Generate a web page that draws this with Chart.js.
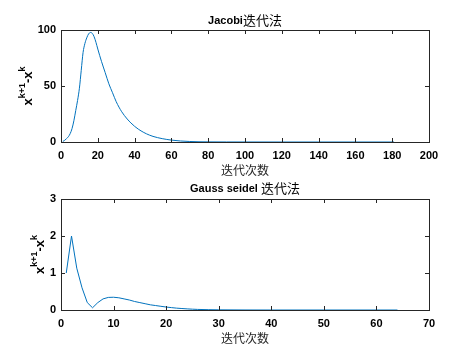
<!DOCTYPE html>
<html>
<head>
<meta charset="utf-8">
<script src="https://cdn.jsdelivr.net/npm/chart.js@4"></script>
<style>
  html, body { margin:0; padding:0; background:#fff; }
  #wrap { position:relative; width:474px; height:355px; overflow:hidden; background:#fff; }
  .box { position:absolute; left:0; width:474px; }
</style>
</head>
<body>
<div id="wrap">
  <div class="box" style="top:0;height:180px"><canvas id="c1"></canvas></div>
  <div class="box" style="top:176px;height:179px"><canvas id="c2"></canvas></div>
</div>
<script>
// ---- data ----
const jacobiIter = [1,2,3,4,5,6,7,8,9,10,11,12,13,14,15,16,17,18,19,20,22,24,26,28,30,33,36,38,40,42,45,48,50,55,60,65,70,75,80,90,100,120,140,160,181];
const jacobiDiff = [0.5,1.5,3,4.7,7.5,12,19,28,37,48,64,80,88,93,96.5,97.8,97,94,89,83,72,62,52,44,36,27,20.5,17,14,11.5,8.5,6.2,5,3,1.7,0.9,0.45,0.2,0.1,0.04,0.02,0,0,0,0];
const gsIter = [1,2,3,4,5,6,7,8,9,10,11,12,13,14,15,16,17,18,19,20,21,22,23,24,25,26,28,30,35,40,50,64];
const gsDiff = [1,2,1.13,0.6,0.2,0.06,0.2,0.3,0.34,0.345,0.33,0.3,0.27,0.23,0.2,0.17,0.14,0.12,0.1,0.08,0.065,0.05,0.04,0.03,0.022,0.016,0.009,0.005,0.001,0,0,0];
const jacobiXTicks = [0,20,40,60,80,100,120,140,160,180,200];
const jacobiYTicks = [0,50,100];
const gsXTicks = [0,10,20,30,40,50,60,70];
const gsYTicks = [0,1,2,3];
const titleTop = ['Jacobi', '迭代法'];
const titleBottom = ['Gauss seidel ', '迭代法'];
const xLabel = '迭代次数';

const LINE = '#0072BD';
const AXC = '#262626';
const LAT = '"Liberation Sans", Arial, sans-serif';
const CJK = '"Noto Sans CJK SC", sans-serif';

const deco = {
  id: 'deco',
  afterDraw(chart, args, o) {
    const ctx = chart.ctx, a = chart.chartArea;
    const xs = chart.scales.x, ys = chart.scales.y;
    ctx.save();
    ctx.strokeStyle = AXC; ctx.lineWidth = 1;
    ctx.strokeRect(Math.round(a.left)+0.5, Math.round(a.top)+0.5, Math.round(a.right-a.left), Math.round(a.bottom-a.top));
    ctx.beginPath();
    xs.ticks.forEach(t => {
      const px = Math.round(xs.getPixelForValue(t.value)) + 0.5;
      ctx.moveTo(px, a.bottom); ctx.lineTo(px, a.bottom - 4);
      ctx.moveTo(px, a.top); ctx.lineTo(px, a.top + 4);
    });
    ys.ticks.forEach(t => {
      const py = Math.round(ys.getPixelForValue(t.value)) + 0.5;
      ctx.moveTo(a.left, py); ctx.lineTo(a.left + 4, py);
      ctx.moveTo(a.right, py); ctx.lineTo(a.right - 4, py);
    });
    ctx.stroke();
    // title (mixed fonts)
    ctx.fillStyle = '#000';
    ctx.textBaseline = 'middle';
    const f1 = 'bold 11px ' + LAT, f2 = '13px ' + CJK;
    ctx.font = f1; const w1 = ctx.measureText(o.title[0]).width;
    ctx.font = f2; const w2 = ctx.measureText(o.title[1]).width;
    let tx = o.titleX - (w1 + w2) / 2;
    ctx.textAlign = 'left';
    ctx.font = f1; ctx.fillText(o.title[0], tx, o.titleY + 1);
    ctx.font = f2; ctx.fillText(o.title[1], tx + w1, o.titleY);
    // x label
    ctx.fillStyle = AXC;
    ctx.font = '12px ' + CJK; ctx.textAlign = 'center';
    ctx.fillText(xLabel, (a.left + a.right) / 2, o.xLabelY);
    // y label x^{k+1}-x^k rotated
    ctx.fillStyle = '#000';
    ctx.translate(o.yLabelX, (a.top + a.bottom) / 2);
    ctx.rotate(-Math.PI / 2);
    const big = 'bold 13px ' + LAT, small = 'bold 9px ' + LAT;
    const parts = [['x', big, 0], ['k+1', small, -7], ['-x', big, 0], ['k', small, -7]];
    let tot = 0;
    parts.forEach(p => { ctx.font = p[1]; p.push(ctx.measureText(p[0]).width); tot += p[3]; });
    let cx = -tot / 2;
    ctx.textAlign = 'left'; ctx.textBaseline = 'alphabetic';
    parts.forEach(p => { ctx.font = p[1]; ctx.fillText(p[0], cx, 5 + p[2]); cx += p[3]; });
    ctx.restore();
  }
};

function makeChart(id, iter, diff, xTicks, yTicks, cfg) {
  const pts = iter.map((v, i) => ({ x: v, y: diff[i] }));
  return new Chart(document.getElementById(id), {
    type: 'line',
    data: { datasets: [{ data: pts, borderColor: LINE, borderWidth: 1, pointRadius: 0,
      fill: false, cubicInterpolationMode: cfg.smooth ? 'monotone' : 'default', tension: 0 }] },
    options: {
      responsive: true, maintainAspectRatio: false, animation: false,
      layout: { padding: { top: cfg.padTop, right: 45, left: 0, bottom: 0 } },
      plugins: { legend: { display: false }, tooltip: { enabled: false },
        deco: { title: cfg.title, titleX: 245, titleY: cfg.titleY, xLabelY: cfg.xLabelY, yLabelX: cfg.yLabelX } },
      scales: {
        x: { type: 'linear', min: xTicks[0], max: xTicks[xTicks.length - 1],
          afterBuildTicks: s => { s.ticks = xTicks.map(v => ({ value: v })); },
          afterFit: s => { s.height = cfg.xH; },
          grid: { display: false, drawTicks: false }, border: { display: false },
          ticks: { autoSkip: false, maxRotation: 0, padding: 7, color: '#000', font: { family: LAT, size: 11, weight: 'bold' } } },
        y: { type: 'linear', min: yTicks[0], max: yTicks[yTicks.length - 1],
          afterBuildTicks: s => { s.ticks = yTicks.map(v => ({ value: v })); },
          afterFit: s => { s.width = 61; },
          grid: { display: false, drawTicks: false }, border: { display: false },
          ticks: { padding: 5, color: '#000', font: { family: LAT, size: 11, weight: 'bold' } } }
      }
    },
    plugins: [deco]
  });
}

makeChart('c1', jacobiIter, jacobiDiff, jacobiXTicks, jacobiYTicks,
  { smooth: true, padTop: 30, xH: 38, title: titleTop, titleY: 20, xLabelY: 170, yLabelX: 27 });
makeChart('c2', gsIter, gsDiff, gsXTicks, gsYTicks,
  { smooth: false, padTop: 23, xH: 45, title: titleBottom, titleY: 12, xLabelY: 162, yLabelX: 39 });
</script>
</body>
</html>
